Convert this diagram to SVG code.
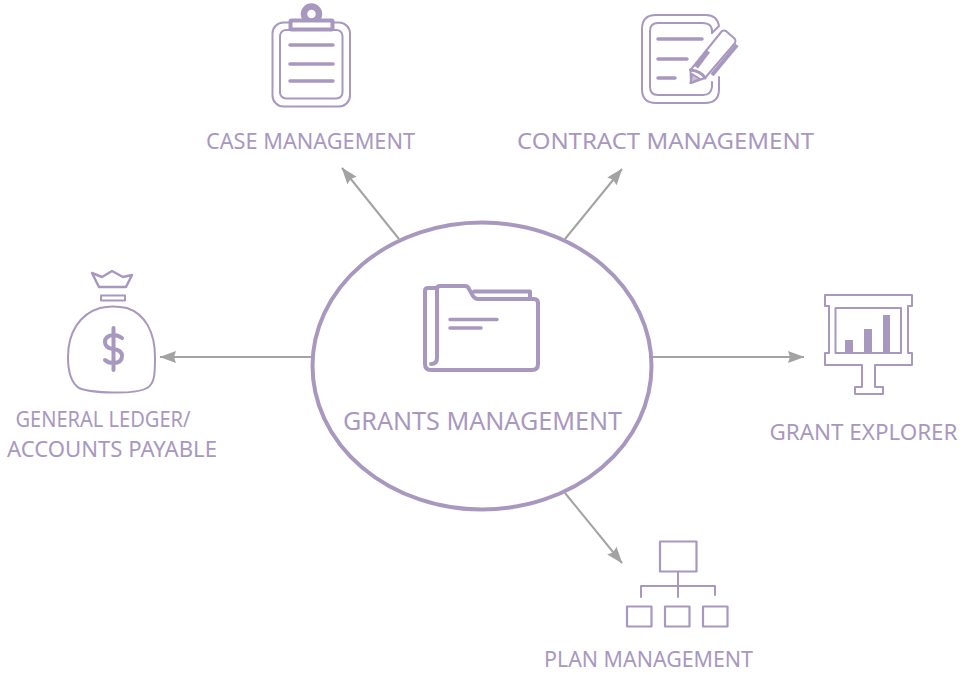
<svg xmlns="http://www.w3.org/2000/svg" width="975" height="675" viewBox="0 0 975 675">
<style>
text{font-family:"Noto Sans","Open Sans",sans-serif;fill:#a898c0;text-anchor:middle;font-size:22px}
.l{fill:none;stroke:#a898c0;stroke-linecap:round;stroke-linejoin:round}
.c{stroke:#a3a3a3;stroke-width:2;fill:none;marker-end:url(#a)}
</style>
<defs><marker id="a" markerUnits="userSpaceOnUse" markerWidth="18" markerHeight="14" refX="16" refY="6" orient="auto"><path d="M0 0L16.500 6L0 12L2 6Z" fill="#a3a3a3"/></marker></defs>
<rect width="975" height="675" fill="#fff"/>
<g id="connectors">
<path class="c" d="M399 239L342 168"/>
<path class="c" d="M565 239L622 169"/>
<path class="c" d="M312 357H160"/>
<path class="c" d="M652 357H804"/>
<path class="c" d="M565 493L622 563"/>
</g>
<g id="grants-management">
<ellipse class="l" cx="482" cy="366" rx="169.500" ry="143.500" stroke-width="4"/>
<g class="l" stroke-width="4">
<path d="M436 288H428Q425 288 425 291V364Q425 370 431 370H532Q538 370 538 364V303Q538 299 534 299H478Q475 299 473 296L469 289Q468 286 465 286H440Q437 286 437 289V358Q437 364 431 364"/>
<path d="M474 291.500H530V298"/>
</g>
<path class="l" stroke-width="3.500" d="M450 319.500H497M450 328H481"/>
<text x="482.500" y="430" textLength="279" lengthAdjust="spacingAndGlyphs" style="font-size:25.500px">GRANTS MANAGEMENT</text>
</g>
<g id="case-management">
<g class="l">
<rect x="272.500" y="22.500" width="77.500" height="84" rx="11" stroke-width="2"/>
<rect x="280" y="30" width="62.500" height="68.500" rx="6" stroke-width="2"/>
<circle cx="311.500" cy="14" r="7.500" stroke-width="6.500" fill="#fff"/>
<rect x="290.500" y="20.500" width="42" height="9" rx="1" stroke-width="4" fill="#fff"/>
<path stroke-width="3.500" d="M290 45H333M290 64H333M290 81H333"/>
</g>
<text x="310.500" y="149" textLength="209" lengthAdjust="spacingAndGlyphs">CASE MANAGEMENT</text>
</g>
<g id="contract-management">
<g class="l">
<path stroke-width="2" d="M712 33L719 26Q717 15 706 15H656Q642 15 642 29V89Q642 103 656 103H705Q719 103 719 89V77"/>
<path stroke-width="2" d="M712 33Q713 23 702 23H658Q650 23 650 31V87Q650 95 658 95H703Q711 95 712 87V82"/>
<path stroke-width="3.500" d="M658 39H702M658 59H687M658 78H675"/>
<path stroke-width="2" fill="#fff" d="M690.500 70L722 31Q724 30 726 31L735 39Q736 41 735 43L705 78L691 83Z"/>
<path stroke-width="5" stroke-linecap="butt" d="M696 67L708 51"/>
<path stroke-width="4" stroke-linecap="butt" d="M737 45L712 75"/>
<path stroke-width="3" d="M690.500 70Q701 71 705 78"/>
<path d="M690.500 83L692 74L700 79Z" fill="#c9bfd9" stroke="#a898c0" stroke-width="2"/>
</g>
<text x="665.500" y="149" textLength="297" lengthAdjust="spacingAndGlyphs">CONTRACT MANAGEMENT</text>
</g>
<g id="general-ledger">
<g class="l">
<path stroke-width="2.500" d="M92 273L102 277L112 271L123 277L132 275L126 287H99Z"/>
<rect x="101" y="295.500" width="24" height="5" stroke-width="2"/>
<path stroke-width="2" d="M100 308C80 314 68 332 68 357C68 368 70 382 79 388C90 393 135 395 147 388C155 384 155 372 155 357C155 332 145 314 127 308C118 306 108 306 100 308Z"/>
<path stroke-width="4" d="M122 338Q118 335 113 335Q105 336 105 342Q105 348 113 349Q122 350 122 356Q122 363 113 363Q108 363 105 360M113.500 328V370"/>
</g>
<text x="103" y="427" textLength="175" lengthAdjust="spacingAndGlyphs">GENERAL LEDGER/</text>
<text x="112" y="457" textLength="210" lengthAdjust="spacingAndGlyphs">ACCOUNTS PAYABLE</text>
</g>
<g id="grant-explorer">
<path class="l" stroke-width="2" d="M825 295H912V306H908V353H912V365H875V387H883V394H855V387H862V365H825V353H829V306H825Z"/>
<rect class="l" x="835.500" y="308" width="65.500" height="45" stroke-width="2"/>
<path fill="#a898c0" d="M845 340H853V353H845ZM864 329H872V353H864ZM883 315H890V353H883Z"/>
<text x="863.500" y="440" textLength="188" lengthAdjust="spacingAndGlyphs">GRANT EXPLORER</text>
</g>
<g id="plan-management">
<g class="l" stroke-width="2.200">
<rect x="660" y="541.500" width="36.500" height="30"/>
<rect x="627" y="606.500" width="24.500" height="20"/>
<rect x="665" y="606.500" width="24.500" height="20"/>
<rect x="703" y="606.500" width="24.500" height="20"/>
<path stroke-width="2" d="M678 572V597M641 597V586H715V595"/>
</g>
<text x="648.500" y="667" textLength="209" lengthAdjust="spacingAndGlyphs">PLAN MANAGEMENT</text>
</g>
</svg>
